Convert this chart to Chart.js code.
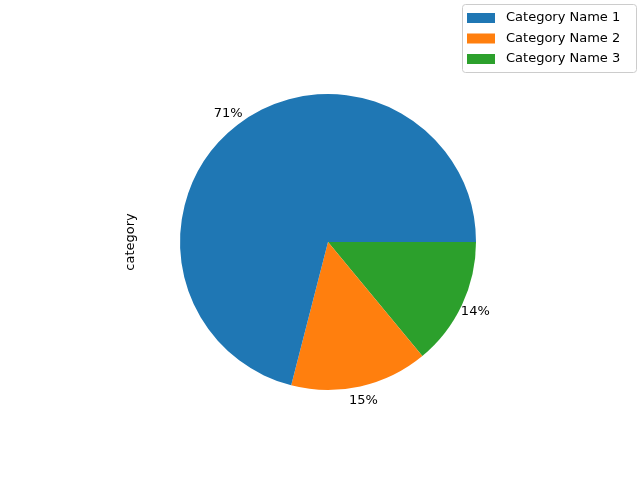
<!DOCTYPE html>
<html>
<head>
<meta charset="utf-8">
<script src="https://cdn.jsdelivr.net/npm/chart.js@4"></script>
<style>
  html, body { margin: 0; padding: 0; background: #fff; }
  #wrap { width: 640px; height: 480px; }
</style>
</head>
<body>
<div id="wrap"><canvas id="pie" width="640" height="480"></canvas></div>
<script>
const categories = ['Category Name 1', 'Category Name 2', 'Category Name 3'];
const values = [71, 15, 14];
const colors = ['#1f77b4', '#ff7f0e', '#2ca02c'];
const yLabel = 'category';

// matplotlib draws counter-clockwise from 3 o'clock, Chart.js clockwise,
// so feed the slices in reverse order
const drawCats = categories.slice().reverse();
const drawVals = values.slice().reverse();
const drawCols = colors.slice().reverse();

const font = '13px "DejaVu Sans"';

const extras = {
    id: 'extras',
    afterDraw(chart) {
        const ctx = chart.ctx;
        const meta = chart.getDatasetMeta(0);
        const total = drawVals.reduce((a, b) => a + b, 0);
        ctx.save();
        ctx.font = font;
        ctx.fillStyle = '#000';
        ctx.textAlign = 'center';
        ctx.textBaseline = 'middle';
        meta.data.forEach((arc, i) => {
            const mid = (arc.startAngle + arc.endAngle) / 2;
            const r = arc.outerRadius * 1.1;
            const pct = Math.round(drawVals[i] / total * 100) + '%';
            ctx.fillText(pct, arc.x + Math.cos(mid) * r, arc.y + Math.sin(mid) * r);
        });

        // y label
        ctx.save();
        ctx.translate(131, meta.data[0].y);
        ctx.rotate(-Math.PI / 2);
        ctx.fillText(yLabel, 0, 0);
        ctx.restore();

        // legend box
        ctx.strokeStyle = '#cccccc';
        ctx.lineWidth = 1;
        ctx.fillStyle = 'rgba(255,255,255,0.8)';
        ctx.beginPath();
        ctx.roundRect(462.5, 4.5, 174, 68, 3);
        ctx.fill();
        ctx.stroke();
        ctx.textAlign = 'left';
        categories.forEach((c, i) => {
            const y = 18 + i * 20.5;
            ctx.fillStyle = colors[i];
            ctx.fillRect(467, y - 5, 28, 10);
            ctx.fillStyle = '#000';
            ctx.fillText(c, 506, y);
        });
        ctx.restore();
    }
};

new Chart(document.getElementById('pie'), {
    type: 'pie',
    data: {
        labels: drawCats,
        datasets: [{
            data: drawVals,
            backgroundColor: drawCols,
            borderWidth: 0
        }]
    },
    options: {
        responsive: false,
        animation: false,
        rotation: 90,
        layout: { padding: { left: 180, right: 164, top: 94, bottom: 90 } },
        plugins: {
            legend: { display: false },
            tooltip: { enabled: false }
        }
    },
    plugins: [extras]
});
</script>
</body>
</html>
